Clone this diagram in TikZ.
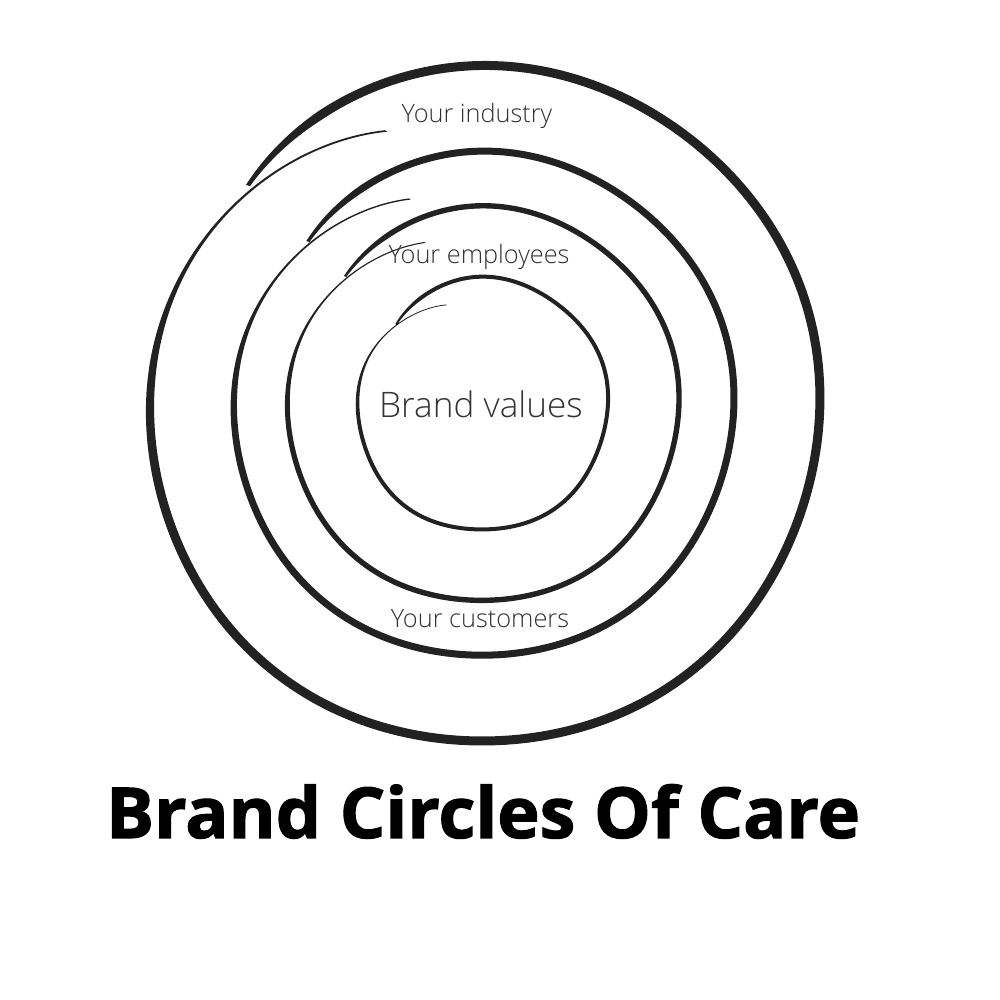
\documentclass[tikz,border=0pt]{standalone}
\usepackage{fontspec}
\setmainfont{Open Sans}
\newfontfamily\lightfont{Open Sans Light}
\definecolor{careInk}{HTML}{222222}
\definecolor{careText}{HTML}{333333}
\tikzset{
  ringlabel/.style={font=\lightfont\fontsize{7.2}{9}\selectfont,text=careText,
    anchor=base,inner sep=0pt},
  corelabel/.style={font=\lightfont\fontsize{10}{12}\selectfont,text=careText,
    anchor=base,inner sep=0pt},
  headline/.style={font=\bfseries\addfontfeatures{FakeBold=1.6}\fontsize{20}{24}\selectfont,
    anchor=base,inner sep=0pt,xscale=1.02}
}
\begin{document}
\begin{tikzpicture}[x=.01cm,y=.01cm,
  declare function={
    th(\s)=137-388*\s;
    rr(\s)=\R-\dA*exp(max(-9,-\s/0.05))-\dB*exp(max(-9,-(1-\s)/0.1))+1.2*sin(5*th(\s));
    ww(\s)=\W*min(1,0.45+12*\s)*(0.2+0.8/(1+exp((\s-0.86)*45)));}]
  \useasboundingbox (0,0) rectangle (1000,1000);
  \foreach \R/\W/\dA/\dB in {339/9/19/50,253/7/15/36,198/5.4/11/27,127/4/10/22}{
    \fill[careInk] plot[domain=0:1,samples=300,variable=\s]
        ({481+(rr(\s)+ww(\s)/2)*cos(th(\s))},{596+(rr(\s)+ww(\s)/2)*sin(th(\s))})
      -- plot[domain=1:0,samples=300,variable=\s]
        ({481+(rr(\s)-ww(\s)/2)*cos(th(\s))},{596+(rr(\s)-ww(\s)/2)*sin(th(\s))})
      -- cycle;
  }
  \node[ringlabel] (industry) at (477,877) {Your industry};
  \node[ringlabel] (employees) at (479,736) {Your employees};
  \node[corelabel] (values) at (481,582) {Brand values};
  \node[ringlabel] (customers) at (480,372) {Your customers};
  \node[headline] (title) at (483,162) {Brand Circles Of Care};
\end{tikzpicture}
\end{document}
